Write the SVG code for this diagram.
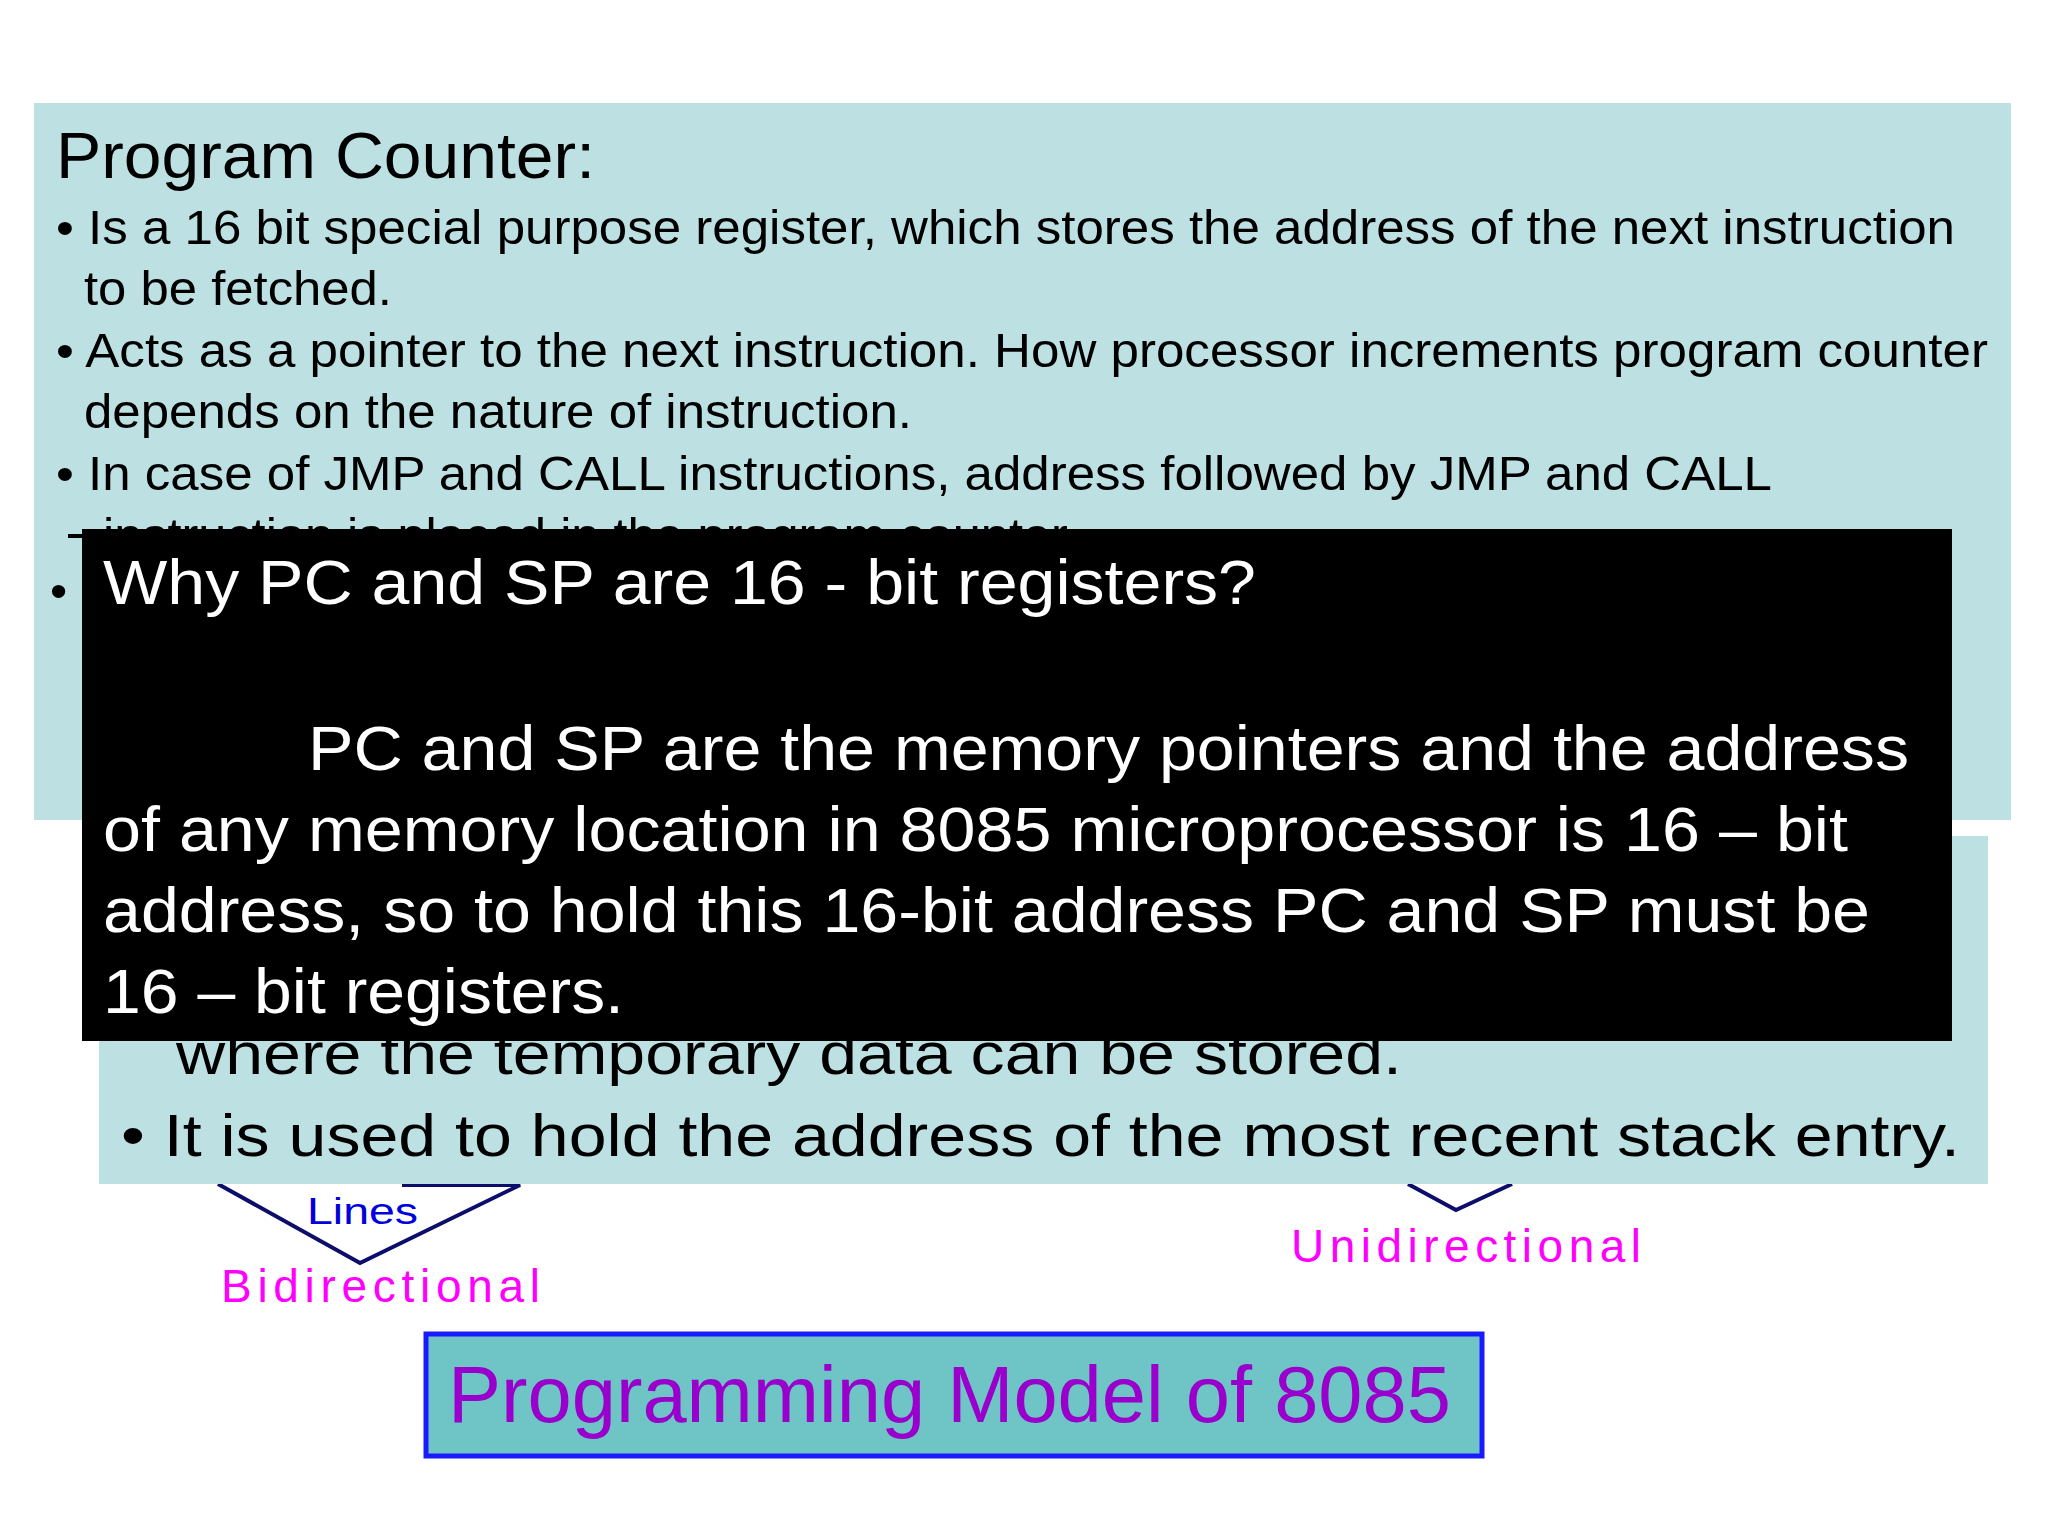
<svg xmlns="http://www.w3.org/2000/svg" width="2048" height="1536" viewBox="0 0 2048 1536">
<style>
.t{font-family:"Liberation Sans",Arial,sans-serif;fill:#000}
.w{font-family:"Liberation Sans",Arial,sans-serif;fill:#fff;font-size:63px}
.b{font-size:49px}
.ln{stroke:#0d0d6b;stroke-width:4;fill:none}
.m{font-family:"Liberation Sans",Arial,sans-serif;fill:#ff00ff;font-size:46px}
</style>
<rect width="2048" height="1536" fill="#fff"/>
<g id="pc-box">
<rect x="34" y="103" width="1977" height="717" fill="#bde0e2"/>
<text class="t" x="56" y="178" font-size="64" textLength="539" lengthAdjust="spacingAndGlyphs">Program Counter:</text>
<text class="t b" x="56" y="244" textLength="1899" lengthAdjust="spacingAndGlyphs">• Is a 16 bit special purpose register, which stores the address of the next instruction</text>
<text class="t b" x="84" y="305" textLength="308" lengthAdjust="spacingAndGlyphs">to be fetched.</text>
<text class="t b" x="56" y="367" textLength="1932" lengthAdjust="spacingAndGlyphs">• Acts as a pointer to the next instruction. How processor increments program counter</text>
<text class="t b" x="84" y="428" textLength="828" lengthAdjust="spacingAndGlyphs">depends on the nature of instruction.</text>
<text class="t b" x="56" y="490" textLength="1716" lengthAdjust="spacingAndGlyphs">• In case of JMP and CALL instructions, address followed by JMP and CALL</text>
<text class="t b" x="103" y="552" textLength="976" lengthAdjust="spacingAndGlyphs">instruction is placed in the program counter.</text>
<line x1="68" y1="536" x2="82" y2="536" stroke="#000" stroke-width="4"/>
<text class="t b" x="50" y="607">•</text>
</g>
<g id="connectors">
<polyline class="ln" points="218,1184 360,1263 520,1185 402,1185"/>
<polyline class="ln" points="1408,1184 1456,1210 1512,1184"/>
</g>
<g id="sp-box">
<rect x="99" y="836" width="1889" height="348" fill="#bde0e2"/>
<text class="t" x="176" y="1074" font-size="60" textLength="1226" lengthAdjust="spacingAndGlyphs">where the temporary data can be stored.</text>
<text class="t" x="121" y="1156" font-size="60" textLength="1839" lengthAdjust="spacingAndGlyphs">• It is used to hold the address of the most recent stack entry.</text>
</g>
<g id="why-box">
<rect x="82" y="529" width="1870" height="512" fill="#000"/>
<text class="w" x="103" y="604" textLength="1153" lengthAdjust="spacingAndGlyphs">Why PC and SP are 16 - bit registers?</text>
<text class="w" x="308" y="770" textLength="1601" lengthAdjust="spacingAndGlyphs">PC and SP are the memory pointers and the address</text>
<text class="w" x="103" y="851" textLength="1745" lengthAdjust="spacingAndGlyphs">of any memory location in 8085 microprocessor is 16 – bit</text>
<text class="w" x="103" y="932" textLength="1767" lengthAdjust="spacingAndGlyphs">address, so to hold this 16-bit address PC and SP must be</text>
<text class="w" x="103" y="1013" textLength="521" lengthAdjust="spacingAndGlyphs">16 – bit registers.</text>
</g>
<g id="labels">
<text x="307" y="1224" font-family="Liberation Sans,Arial,sans-serif" font-size="36" fill="#0000dd" textLength="111" lengthAdjust="spacingAndGlyphs">Lines</text>
<text class="m" x="221" y="1302" textLength="319">Bidirectional</text>
<text class="m" x="1291" y="1262" textLength="350">Unidirectional</text>
</g>
<g id="title">
<rect x="426" y="1334" width="1056" height="122" fill="#6fc5c5" stroke="#1a1aff" stroke-width="5"/>
<text x="448" y="1422" font-family="Liberation Sans,Arial,sans-serif" font-size="80" fill="#9900cc" textLength="1003" lengthAdjust="spacingAndGlyphs">Programming Model of 8085</text>
</g>
</svg>
